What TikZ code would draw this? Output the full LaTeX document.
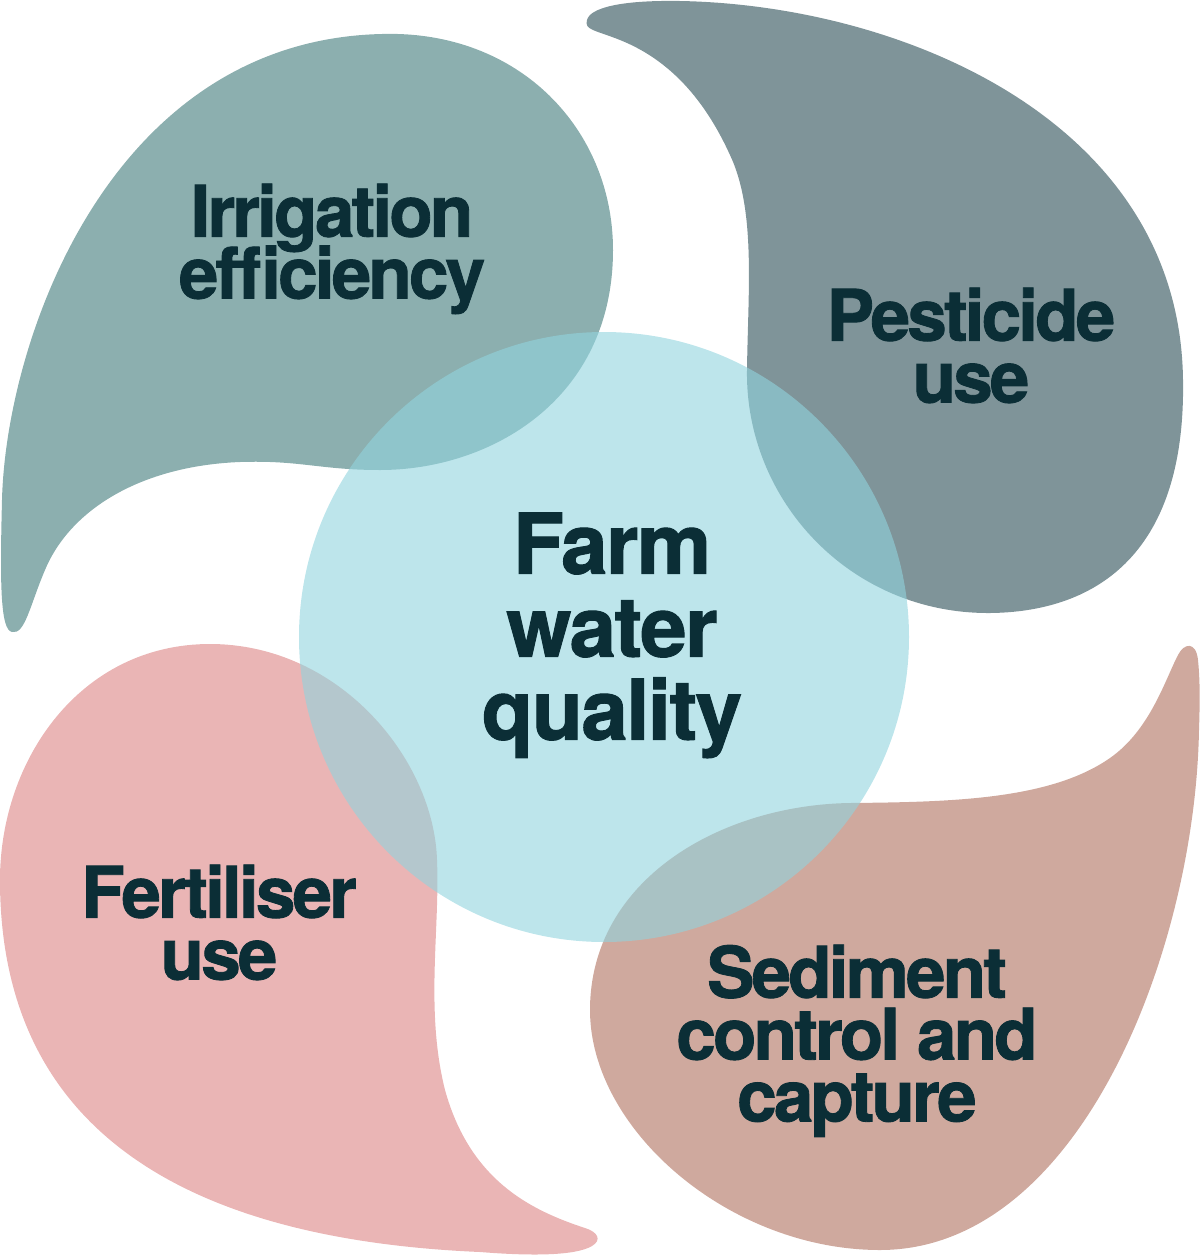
\documentclass[tikz,border=0pt]{standalone}
\usepackage{fontspec}
\setmainfont{TeX Gyre Heros}
\newfontfamily\bloblabelfont[LetterSpace=-4,FakeBold=1.2]{TeX Gyre Heros}
\newfontfamily\hublabelfont[LetterSpace=-2,FakeBold=1.2]{TeX Gyre Heros}
\newcommand\tightlines{\lineskiplimit-30pt\relax}
\definecolor{irrigcol}{HTML}{8CAFAF}
\definecolor{pestcol}{HTML}{7F9499}
\definecolor{fertcol}{HTML}{EAB5B5}
\definecolor{sedcol}{HTML}{CFA99E}
\definecolor{hubcol}{HTML}{91D4DE}
\definecolor{inkcol}{HTML}{0B2E36}
\tikzset{
   bloblabel/.style={inner sep=0pt,anchor=north,align=center,text=inkcol,
    font={\bloblabelfont\bfseries\fontsize{20.2pt}{17.6pt}\selectfont\tightlines}},
   hublabel/.style={inner sep=0pt,anchor=north,align=center,text=inkcol,
    font={\hublabelfont\bfseries\fontsize{23.8pt}{23.6pt}\selectfont\tightlines}}
}
\begin{document}
\begin{tikzpicture}[x=0.01cm,y=-0.01cm]
   \useasboundingbox (0,0) rectangle (1200,1257);
   \fill [irrigcol] (12,632) .. controls (0,630) and (0,580) .. (2,500)
    .. controls (6,340) and (110,40) .. (382,34) .. controls (520,30) and (613,130) .. (613,250)
    .. controls (613,400) and (490,470) .. (380,470) .. controls (320,470) and (300,460) .. (240,462)
    .. controls (140,466) and (70,510) .. (45,570) .. controls (30,605) and (25,635) .. (12,632) -- cycle;
   \fill [pestcol] (587,20) .. controls (590,8) and (620,0) .. (680,1)
    .. controls (900,5) and (1180,120) .. (1183,380) .. controls (1186,560) and (1090,612) .. (990,613)
    .. controls (850,614) and (745,500) .. (747,370) .. controls (748,290) and (756,210) .. (730,155)
    .. controls (705,100) and (670,60) .. (620,40) .. controls (595,30) and (584,30) .. (587,20) -- cycle;
   \fill [sedcol] (1198,660) .. controls (1200,680) and (1200,700) .. (1199,730)
    .. controls (1195,950) and (1080,1250) .. (880,1250) .. controls (730,1250) and (590,1130) .. (590,1010)
    .. controls (590,880) and (720,805) .. (850,803) .. controls (950,802) and (1050,800) .. (1110,758)
    .. controls (1150,730) and (1165,680) .. (1178,655) .. controls (1184,643) and (1196,641) .. (1198,660) -- cycle;
   \fill [fertcol] (210,644) .. controls (80,644) and (0,760) .. (0,880)
    .. controls (0,1140) and (200,1240) .. (480,1252) .. controls (530,1256) and (575,1256) .. (592,1246)
    .. controls (602,1240) and (598,1232) .. (585,1228) .. controls (530,1210) and (470,1180) .. (445,1090)
    .. controls (425,1010) and (440,930) .. (437,860) .. controls (434,760) and (340,644) .. (210,644) -- cycle;
   \fill [hubcol,fill opacity=0.6] (604,637) circle (305);
   \node [bloblabel] (irrigation) at (332,183) {Irrigation\\efficiency};
   \node [bloblabel] (pesticide) at (971,287) {Pesticide\\use};
   \node [bloblabel] (fertiliser) at (219,864) {Fertiliser\\use};
   \node [bloblabel] (sediment) at (857,944) {Sediment\\control and\\capture};
   \node [hublabel] (farm) at (612,512) {Farm\\water\\quality};
\end{tikzpicture}
\end{document}
